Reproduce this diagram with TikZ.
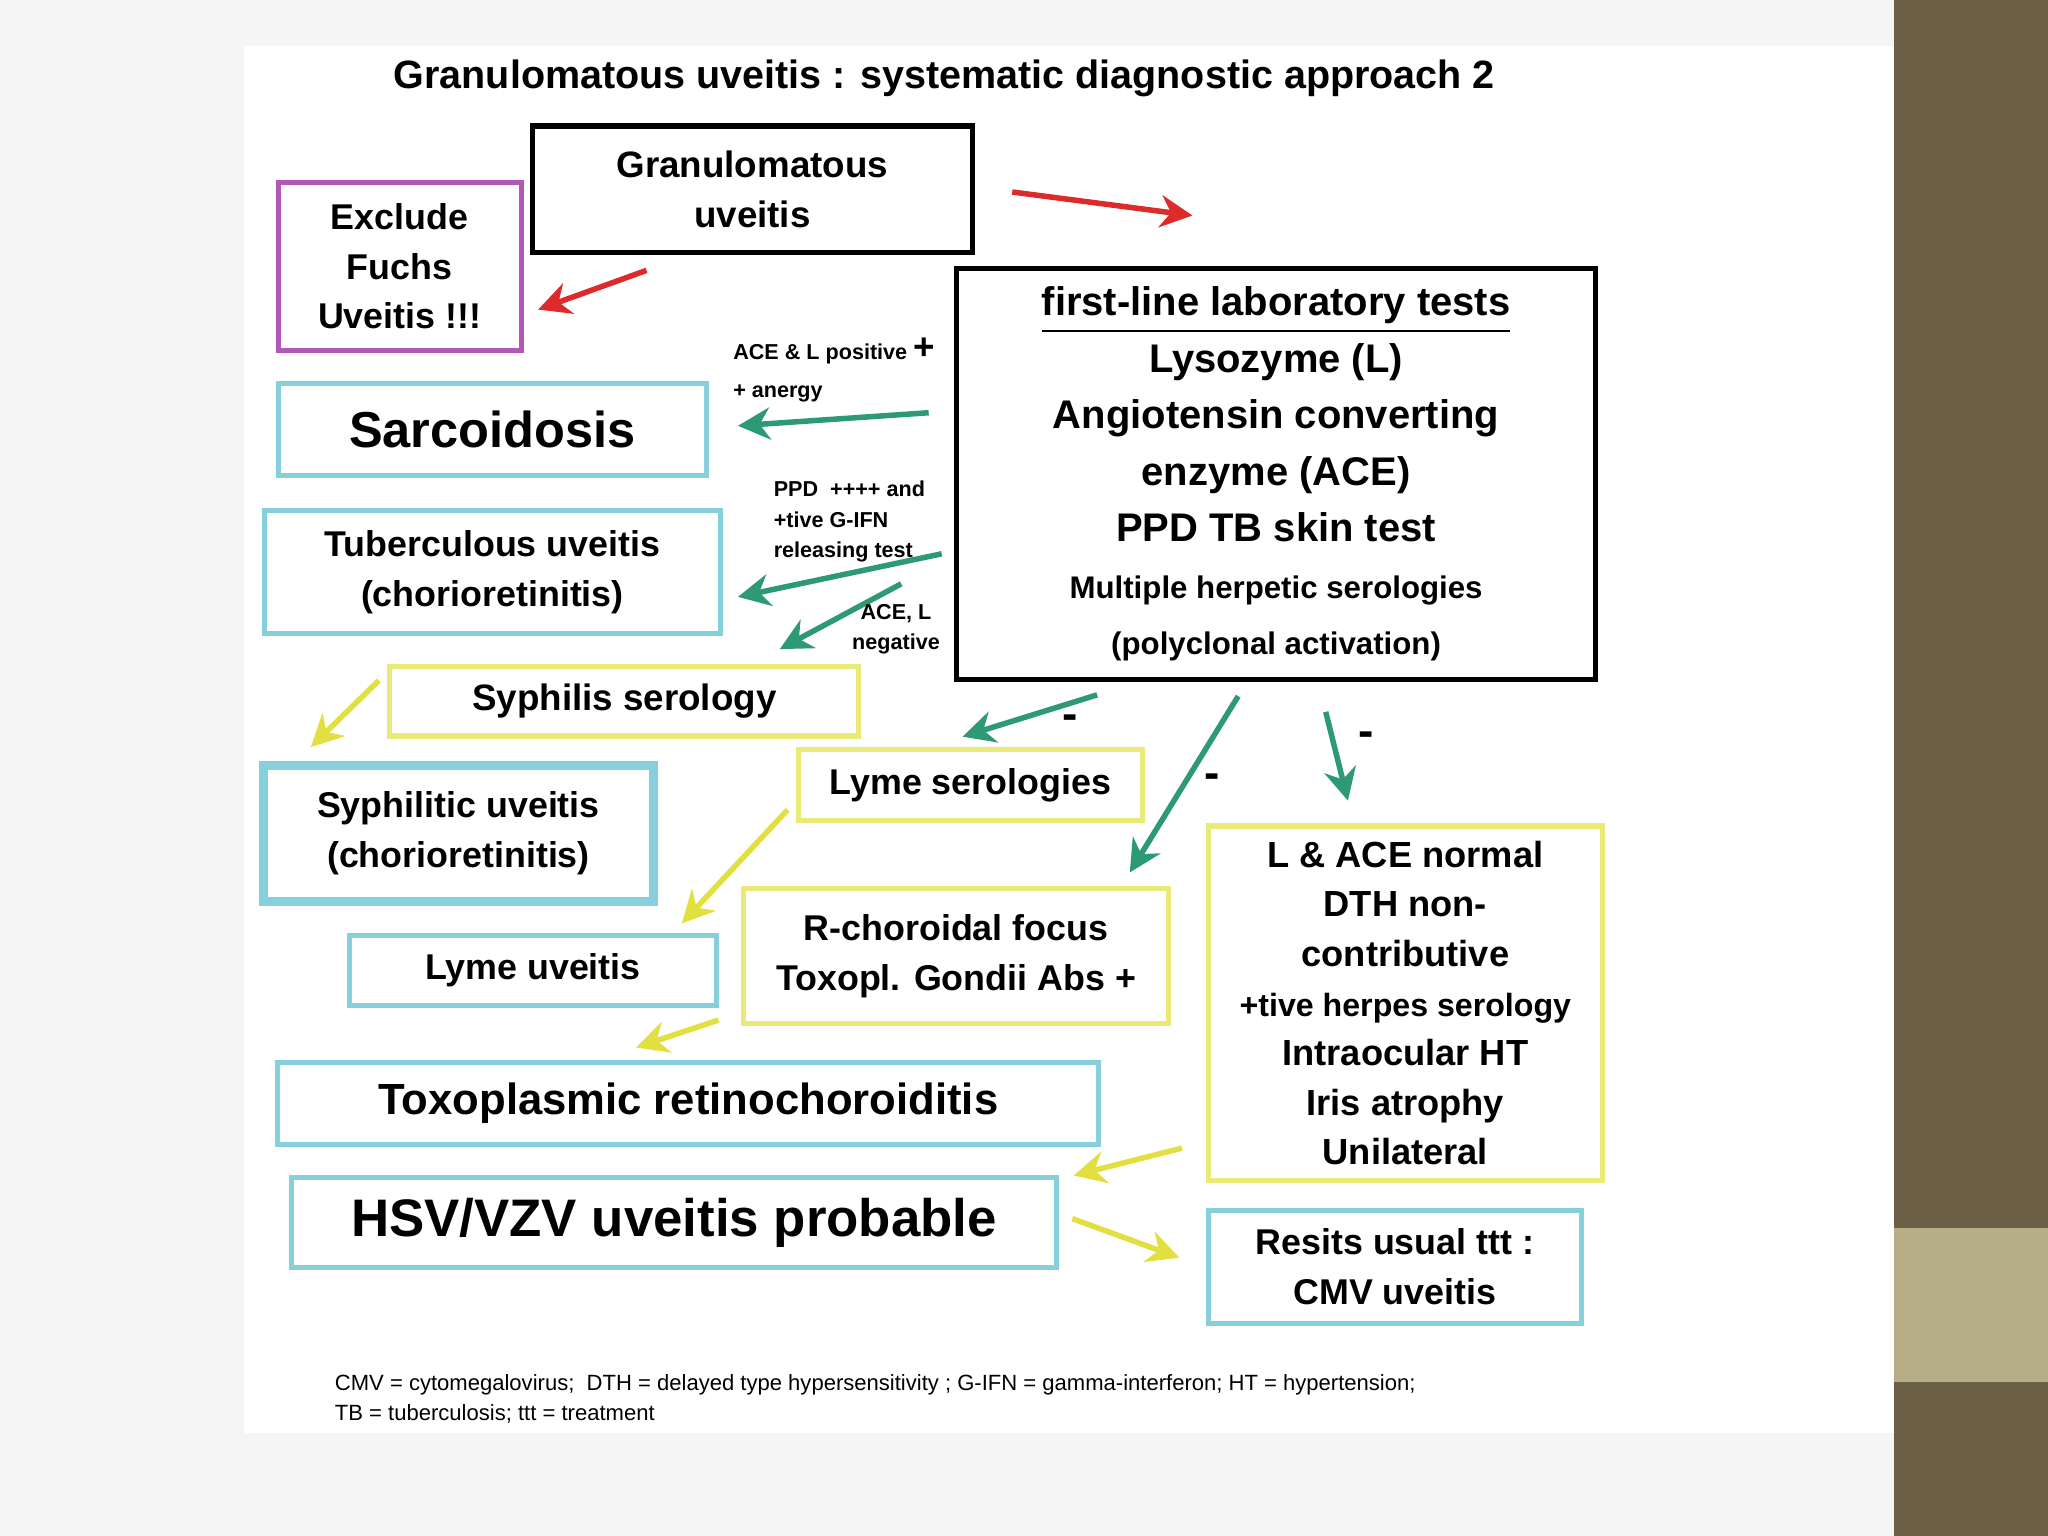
\documentclass[tikz,border=0pt]{standalone}
\usepackage{fontspec}
\setmainfont{Liberation Sans}
\usetikzlibrary{arrows.meta, positioning}
\definecolor{boxcyan}{HTML}{86D0DC}
\definecolor{boxyellow}{HTML}{EAEA78}
\definecolor{boxpurple}{HTML}{B458B8}
\definecolor{arrred}{HTML}{DD2A2A}
\definecolor{arrgreen}{HTML}{2E9A74}
\definecolor{arryellow}{HTML}{E2E040}
\definecolor{olive}{HTML}{6B5F45}
\definecolor{oliveL}{HTML}{B6AE86}
\begin{document}
\begin{tikzpicture}[x=0.01cm, y=-0.01cm, >={Stealth[length=7pt,width=7pt]}, font=\bfseries]

	% Define styles
	\tikzstyle{box} = [rectangle, draw, line width=1.1pt, align=center, inner sep=2pt, font=\fontsize{8}{11}\selectfont\bfseries]
	\tikzstyle{blackbox} = [box, draw=black]
	\tikzstyle{cyanbox} = [box, draw=boxcyan]
	\tikzstyle{yellowbox} = [box, draw=boxyellow]
	\tikzstyle{small} = [align=left, font=\fontsize{4.7}{6.6}\selectfont\bfseries]
	\tikzstyle{redarr} = [->, draw=arrred, line width=1.2pt, color=arrred]
	\tikzstyle{greenarr} = [->, draw=arrgreen, line width=1.2pt, color=arrgreen]
	\tikzstyle{yellowarr} = [->, draw=arryellow, line width=1.2pt, color=arryellow]

	% Background
	\useasboundingbox (0,0) rectangle (1568,1176);
	\fill[gray!8] (0,0) rectangle (1450,1176);
	\fill[white] (187,35) rectangle (1450,1097);
	\fill[olive] (1450,0) rectangle (1568,1176);
	\fill[oliveL] (1450,940) rectangle (1568,1058);

	% Title
	\node[font=\fontsize{8.6}{10}\selectfont\bfseries] (title) at (723,60) {Granulomatous uveitis : systematic diagnostic approach 2};

	% Nodes
	\node[blackbox, minimum width=3.37cm, minimum height=0.97cm] (gran) at (576,145) {Granulomatous\\uveitis};
	\node[box, draw=boxpurple, minimum width=1.86cm, minimum height=1.28cm, font=\fontsize{7.8}{10.8}\selectfont\bfseries] (fuchs) at (306,204) {Exclude\\Fuchs\\Uveitis !!!};
	\node[blackbox, minimum width=4.89cm, minimum height=3.15cm, font=\fontsize{8.7}{12.3}\selectfont\bfseries] (tests) at (977,363) {\underline{first-line laboratory tests}\\Lysozyme (L)\\Angiotensin converting\\enzyme (ACE)\\PPD TB skin test\\{\fontsize{6.8}{9.6}\selectfont Multiple herpetic serologies}\\{\fontsize{6.8}{9.6}\selectfont (polyclonal activation)}};
	\node[cyanbox, minimum width=3.28cm, minimum height=0.70cm, font=\fontsize{11}{14}\selectfont\bfseries] (sarc) at (377,329) {Sarcoidosis};
	\node[cyanbox, minimum width=3.49cm, minimum height=0.94cm, font=\fontsize{7.8}{10.8}\selectfont\bfseries] (tb) at (377,438) {Tuberculous uveitis\\(chorioretinitis)};
	\node[yellowbox, minimum width=3.59cm, minimum height=0.53cm] (syphser) at (478,537) {Syphilis serology};
	\node[cyanbox, line width=2pt, minimum width=2.98cm, minimum height=1.04cm, font=\fontsize{7.8}{10.8}\selectfont\bfseries] (syphuv) at (351,638) {Syphilitic uveitis\\(chorioretinitis)};
	\node[yellowbox, minimum width=2.63cm, minimum height=0.55cm, font=\fontsize{7.8}{10}\selectfont\bfseries] (lymeser) at (743,601) {Lyme serologies};
	\node[yellowbox, minimum width=3.01cm, minimum height=2.71cm, font=\fontsize{7.9}{10.8}\selectfont\bfseries] (normal) at (1076,768) {L \& ACE normal\\DTH non-\\contributive\\{\fontsize{7}{10.8}\selectfont +tive herpes serology}\\Intraocular HT\\Iris atrophy\\Unilateral};
	\node[cyanbox, minimum width=2.81cm, minimum height=0.54cm, font=\fontsize{7.8}{10}\selectfont\bfseries] (lymeuv) at (408,743) {Lyme uveitis};
	\node[yellowbox, minimum width=3.25cm, minimum height=1.03cm, font=\fontsize{7.8}{10.8}\selectfont\bfseries] (rchor) at (732,732) {R-choroidal focus\\Toxopl. Gondii Abs +};
	\node[cyanbox, minimum width=6.28cm, minimum height=0.63cm, font=\fontsize{9.5}{12}\selectfont\bfseries] (toxo) at (527,845) {Toxoplasmic retinochoroiditis};
	\node[cyanbox, minimum width=5.86cm, minimum height=0.69cm, font=\fontsize{11.5}{14}\selectfont\bfseries] (hsv) at (516,936) {HSV/VZV uveitis probable};
	\node[cyanbox, minimum width=2.85cm, minimum height=0.87cm, font=\fontsize{7.8}{10.8}\selectfont\bfseries] (cmv) at (1068,970) {Resits usual ttt :\\CMV uveitis};

	% Arrow end points
	\coordinate (r1a) at (775,147); \coordinate (r1b) at (913,165);
	\coordinate (r2a) at (495,207); \coordinate (r2b) at (412,237);
	\coordinate (g1a) at (711,316); \coordinate (g1b) at (565,326);
	\coordinate (g2a) at (721,424); \coordinate (g2b) at (565,457);
	\coordinate (g3a) at (690,447); \coordinate (g3b) at (597,497);
	\coordinate (g4a) at (840,532); \coordinate (g4b) at (737,564);
	\coordinate (g5a) at (948,533); \coordinate (g5b) at (865,668);
	\coordinate (g6a) at (1015,545); \coordinate (g6b) at (1032,613);
	\coordinate (y1a) at (290,521); \coordinate (y1b) at (238,572);
	\coordinate (y2a) at (603,620); \coordinate (y2b) at (522,707);
	\coordinate (y3a) at (550,781); \coordinate (y3b) at (487,802);
	\coordinate (y4a) at (905,879); \coordinate (y4b) at (822,900);
	\coordinate (y5a) at (821,933); \coordinate (y5b) at (903,963);

	% Arrows
	\draw[redarr] (r1a) -- (r1b);
	\draw[redarr] (r2a) -- (r2b);
	\draw[greenarr] (g1a) -- (g1b);
	\draw[greenarr] (g2a) -- (g2b);
	\draw[greenarr] (g3a) -- (g3b);
	\draw[greenarr] (g4a) -- (g4b);
	\draw[greenarr] (g5a) -- (g5b);
	\draw[greenarr] (g6a) -- (g6b);
	\draw[yellowarr] (y1a) -- (y1b);
	\draw[yellowarr] (y2a) -- (y2b);
	\draw[yellowarr] (y3a) -- (y3b);
	\draw[yellowarr] (y4a) -- (y4b);
	\draw[yellowarr] (y5a) -- (y5b);

	% Labels
	\node[small, anchor=west] (pos) at (549,269) {ACE \& L positive {\fontsize{8}{8}\selectfont +}};
	\node[small, anchor=west] (anergy) at (549,301) {+ anergy};
	\node[small, anchor=north west] (ppd) at (580,356) {PPD \ ++++ and\\+tive G-IFN\\releasing test};
	\node[small, align=center] (neg) at (686,482) {ACE, L\\negative};
	\node[font=\fontsize{10}{10}\selectfont\bfseries] (m1) at (819,553) {-};
	\node[font=\fontsize{10}{10}\selectfont\bfseries] (m2) at (928,598) {-};
	\node[font=\fontsize{10}{10}\selectfont\bfseries] (m3) at (1046,566) {-};

	% Footnote
	\node[anchor=north west, align=left, font=\fontsize{4.8}{6.6}\selectfont\mdseries] (foot) at (244,1040) {CMV = cytomegalovirus; \ DTH = delayed type hypersensitivity ; G-IFN = gamma-interferon; HT = hypertension;\\TB = tuberculosis; ttt = treatment};

\end{tikzpicture}
\end{document}
